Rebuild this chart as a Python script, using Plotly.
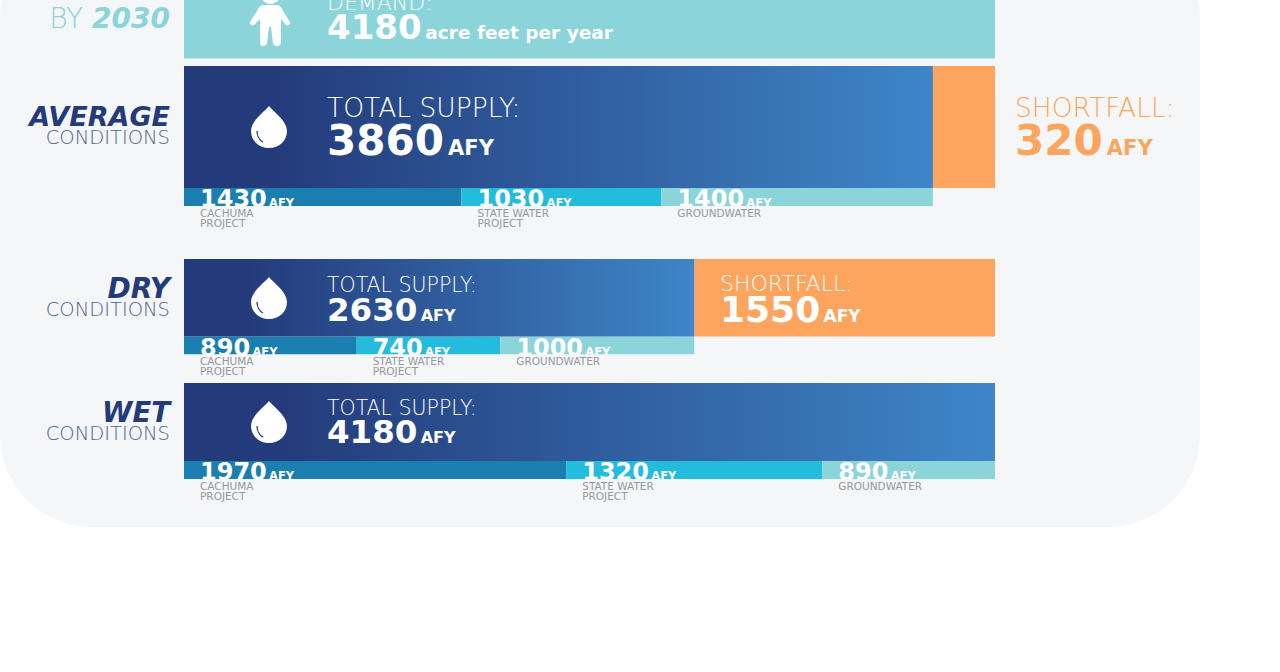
import plotly.graph_objects as go

# Water supply and demand figures, acre feet per year
conditions = ["AVERAGE", "DRY", "WET"]
total_supply = [3860, 2630, 4180]
shortfall = [320, 1550, 0]
cachuma = [1430, 890, 1970]
state_water = [1030, 740, 1320]
groundwater = [1400, 1000, 890]
demand = 4180
demand_year = "2030"

# Colours
PANEL = "#F4F6F8"
NAVY = "#243B7B"
BLUE_END = "#3E86C8"
TEAL = "#8AD4DA"
ORANGE = "#FDA55E"
CACHUMA = "#1A7FB0"
STATE = "#23BCDC"
GREY = "#96989B"
SLATE = "#525F93"
WHITE = "#FFFFFF"
FONT = "DejaVu Sans"
THIN_SPACE = "\u2009"

# Page geometry: the value axis starts at pixel 184 and 4180 AFY ends at pixel 995
W, H = 1280, 672
X0 = 184.0
PX_PER_AFY = (995.0 - X0) / demand
row_top = [66.0, 259.0, 383.0]
row_main_h = [122.0, 77.5, 78.0]
STRIP_H = 18.0
STRIP_TEXT_INSET = 16.0


def vx(px):
    """Convert a page pixel position to axis units."""
    return (px - X0) / PX_PER_AFY


fig = go.Figure()


def bar(start, length, top, height, color):
    fig.add_trace(go.Bar(
        orientation="h", base=[start], x=[length], y=[top + height / 2], width=[height],
        marker=dict(color=color, line=dict(width=0)), hoverinfo="skip", showlegend=False,
    ))


def label(x, y, text, size, color, pos="middle right", weight=None):
    font = dict(family=FONT, size=size, color=color)
    if weight is not None:
        font["weight"] = weight
    fig.add_trace(go.Scatter(
        x=[x], y=[y], mode="text", text=[text], textposition=pos, textfont=font,
        hoverinfo="skip", showlegend=False, cliponaxis=False,
    ))


def big(value, unit, unit_size):
    return f'<b>{value}<span style="font-size:{unit_size}px">{THIN_SPACE}{unit}</span></b>'


# Demand band, running off the top of the page
bar(0, demand, -40, 98.5, TEAL)

# Shortfall and source segments
for i in range(len(conditions)):
    strip_y = row_top[i] + row_main_h[i]
    if shortfall[i]:
        bar(total_supply[i], shortfall[i], row_top[i], row_main_h[i], ORANGE)
    start = 0
    for vals, col in ((cachuma, CACHUMA), (state_water, STATE), (groundwater, TEAL)):
        bar(start, vals[i], strip_y, STRIP_H, col)
        start += vals[i]

# Total supply bands with a left-to-right gradient
for i in range(len(conditions)):
    t, b = row_top[i], row_top[i] + row_main_h[i]
    fig.add_trace(go.Scatter(
        x=[0, total_supply[i], total_supply[i], 0, 0], y=[t, t, b, b, t],
        mode="lines", line=dict(width=0), fill="toself",
        fillgradient=dict(type="horizontal", start=0, stop=total_supply[i],
                          colorscale=[[0, NAVY], [0.12, NAVY], [1, BLUE_END]]),
        hoverinfo="skip", showlegend=False,
    ))

# Source values sit low in their strips so the strip edge trims them
inset = STRIP_TEXT_INSET / PX_PER_AFY
for i in range(len(conditions)):
    strip_y = row_top[i] + row_main_h[i]
    start = 0
    for vals in (cachuma, state_water, groundwater):
        label(start + inset, strip_y + 13, big(vals[i], "AFY", 11.5), 24, WHITE)
        start += vals[i]
    fig.add_trace(go.Scatter(
        x=[0, demand, demand, 0, 0],
        y=[strip_y + STRIP_H, strip_y + STRIP_H, strip_y + STRIP_H + 12,
           strip_y + STRIP_H + 12, strip_y + STRIP_H],
        mode="lines", line=dict(width=0), fill="toself", fillcolor=PANEL,
        hoverinfo="skip", showlegend=False,
    ))
    # Source captions
    start = 0
    for vals, lines in ((cachuma, ["CACHUMA", "PROJECT"]),
                        (state_water, ["STATE WATER", "PROJECT"]),
                        (groundwater, ["GROUNDWATER"])):
        for k, line in enumerate(lines):
            label(start + inset, strip_y + STRIP_H + 8 + 10.2 * k, line, 10.5, GREY)
        start += vals[i]

# Row captions
label_right = vx(170)
caption_y = [119, 291, 415]
caption_size = [27, 28, 27.5]
for i, name in enumerate(conditions):
    label(label_right, caption_y[i], f"<b><i>{name}</i></b>", caption_size[i], NAVY, "middle left")
    label(label_right, caption_y[i] + 20, "CONDITIONS", 19.5, SLATE, "middle left", weight=300)
label(label_right, 21, f'BY <b><i>{demand_year}</i></b>', 28, TEAL, "middle left", weight=300)

# Text inside the bands
tx = vx(327)
label(tx, 4, "DEMAND:", 22, WHITE, weight=300)
label(tx, 30, f'<b>{demand}<span style="font-size:18.5px">{THIN_SPACE}acre feet per year</span></b>', 34, WHITE)

label(tx, 110, "TOTAL SUPPLY:", 26.5, WHITE, weight=300)
label(tx, 144, big(total_supply[0], "AFY", 21), 42, WHITE)
label(tx, 286.5, "TOTAL SUPPLY:", 20.5, WHITE, weight=300)
label(tx, 313, big(total_supply[1], "AFY", 16), 32.5, WHITE)
label(tx, 410, "TOTAL SUPPLY:", 20.5, WHITE, weight=300)
label(tx, 435, big(total_supply[2], "AFY", 16), 32.5, WHITE)

# Shortfall captions
label(vx(1015), 110, "SHORTFALL:", 26.5, ORANGE, weight=300)
label(vx(1015), 144, big(shortfall[0], "AFY", 21), 42, ORANGE)
label(vx(720), 285.5, "SHORTFALL:", 22, WHITE, weight=300)
label(vx(720), 313, big(shortfall[1], "AFY", 17), 36, WHITE)


def path(cmds):
    """Build an SVG path from page-pixel commands, converted to axis units."""
    out = []
    for c in cmds:
        pts = c[1:]
        coords = " ".join(f"{vx(pts[j]):.2f},{pts[j + 1]:.2f}" for j in range(0, len(pts), 2))
        out.append(f"{c[0]} {coords}")
    return " ".join(out)


shapes = []

# Rounded background panel
R = 92
panel_top, panel_bottom, panel_left, panel_right = -73, 527, 0, 1200
k = R * 0.45
shapes.append(dict(
    type="path", layer="below", xref="x", yref="y", fillcolor=PANEL, line=dict(width=0),
    path=path([
        ("M", panel_left + R, panel_top), ("L", panel_right - R, panel_top),
        ("C", panel_right - k, panel_top, panel_right, panel_top + k, panel_right, panel_top + R),
        ("L", panel_right, panel_bottom - R),
        ("C", panel_right, panel_bottom - k, panel_right - k, panel_bottom, panel_right - R, panel_bottom),
        ("L", panel_left + R, panel_bottom),
        ("C", panel_left + k, panel_bottom, panel_left, panel_bottom - k, panel_left, panel_bottom - R),
        ("L", panel_left, panel_top + R),
        ("C", panel_left, panel_top + k, panel_left + k, panel_top, panel_left + R, panel_top),
    ]) + " Z",
))

# Water drop icons
cx = 269
for t in (106, 277, 401):
    shapes.append(dict(
        type="path", xref="x", yref="y", fillcolor=WHITE, line=dict(width=0),
        path=path([
            ("M", cx, t),
            ("C", cx + 5, t + 6, cx + 18, t + 15, cx + 18, t + 25),
            ("C", cx + 18, t + 35, cx + 10, t + 42, cx, t + 42),
            ("C", cx - 10, t + 42, cx - 18, t + 35, cx - 18, t + 25),
            ("C", cx - 18, t + 15, cx - 5, t + 6, cx, t),
        ]) + " Z",
    ))
    shapes.append(dict(
        type="path", xref="x", yref="y", line=dict(width=1.3, color=NAVY),
        path=path([("M", cx - 12, t + 25), ("C", cx - 12, t + 29, cx - 10, t + 34, cx - 6, t + 36)]),
    ))

# Person icon
shapes.append(dict(
    type="circle", xref="x", yref="y", fillcolor=WHITE, line=dict(width=0),
    x0=vx(262), x1=vx(279), y0=-10, y1=4,
))
shapes.append(dict(
    type="path", xref="x", yref="y", fillcolor=WHITE, line=dict(width=0),
    path=path([
        ("M", 264, 5), ("L", 276, 5), ("C", 280, 5, 282, 8, 283, 11), ("L", 290, 22),
        ("C", 291, 25, 287, 27, 285, 24), ("L", 281, 19), ("L", 281, 43),
        ("C", 281, 47, 273, 47, 273, 43), ("L", 271, 27), ("L", 269, 27), ("L", 267, 43),
        ("C", 267, 47, 260, 47, 260, 43), ("L", 260, 19), ("L", 255, 24),
        ("C", 253, 27, 249, 25, 250, 22), ("L", 257, 11), ("C", 258, 8, 260, 5, 264, 5),
    ]) + " Z",
))

hidden = dict(visible=False, fixedrange=True)
fig.update_layout(
    width=W, height=H, margin=dict(l=0, r=0, t=0, b=0),
    paper_bgcolor=WHITE, plot_bgcolor=WHITE, barmode="overlay", showlegend=False,
    xaxis=dict(range=[vx(0), vx(W)], **hidden),
    yaxis=dict(range=[H, 0], **hidden),
    shapes=shapes,
)

fig.write_html("out.html", config=dict(displayModeBar=False))
